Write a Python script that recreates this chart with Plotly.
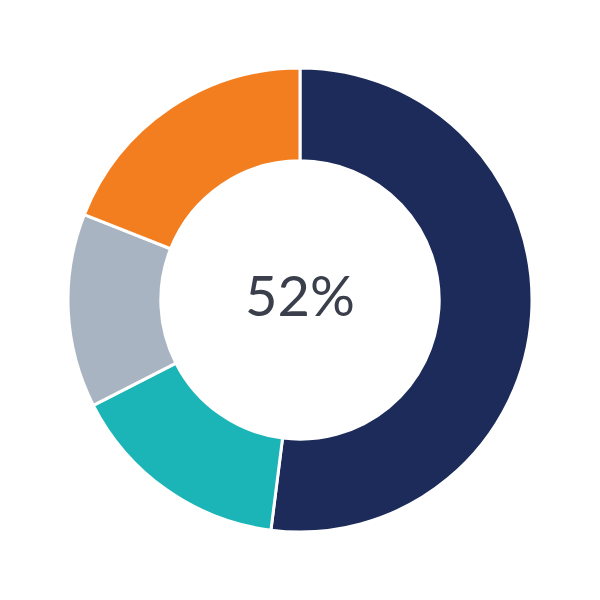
import plotly.graph_objects as go

labels = ["A", "B", "C", "D"]
values = [52, 15.5, 13.5, 19]
colors = ["#1C2B5A", "#1BB5B8", "#A9B4C2", "#F37E20"]
center_text = "52%"

fig = go.Figure(go.Pie(
    labels=labels,
    values=values,
    hole=0.6,
    sort=False,
    direction="clockwise",
    rotation=0,
    marker=dict(colors=colors, line=dict(color="white", width=3)),
    textinfo="none",
    hoverinfo="label+percent",
    showlegend=False,
))

fig.update_layout(
    width=600, height=600,
    margin=dict(l=60, r=76, t=60, b=76),
    paper_bgcolor="white",
    plot_bgcolor="white",
    annotations=[dict(
        text=center_text, x=0.5, y=0.5, xref="paper", yref="paper",
        yshift=6,
        showarrow=False, font=dict(family="Lato", size=56, color="#3A3F4B"),
    )],
)

fig.write_html("out.html")
